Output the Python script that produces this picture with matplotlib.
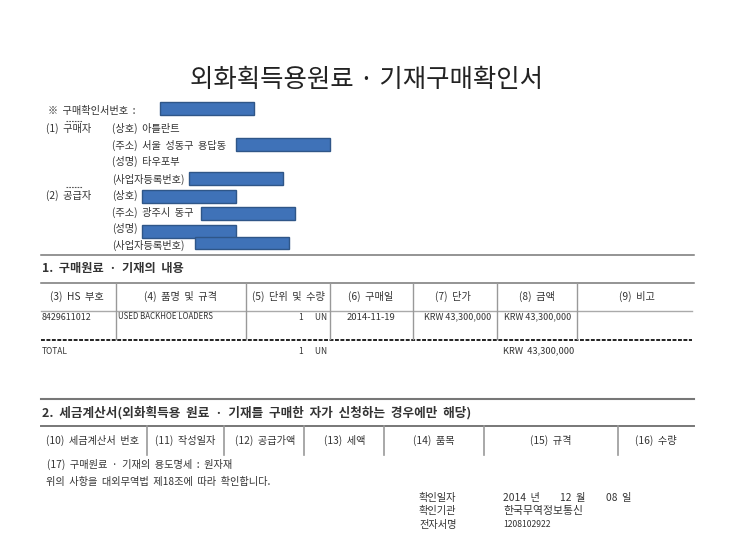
import matplotlib
matplotlib.use("Agg")
import matplotlib.pyplot as plt
from matplotlib.patches import Rectangle

plt.rcParams["font.family"] = ["Noto Sans CJK KR", "DejaVu Sans"]

TEXT_COLOR = "#333333"
LINE_COLOR = "#777777"
BOX_FACE = "#3f72b8"
BOX_EDGE = "#2f5688"

TITLE = "외화획득용원료 · 기재구매확인서"
DOC_NO = "※ 구매확인서번호 :"
BUYER = "(1) 구매자"
SUPPLIER = "(2) 공급자"
PARTY_LINES = ["(상호) 아틀란트", "(주소) 서울 성동구 용답동", "(성명) 타우포부", "(사업자등록번호)",
               "(상호)", "(주소) 광주시 동구", "(성명)", "(사업자등록번호)"]
SECTION_1 = "1. 구매원료 · 기재의 내용"
SECTION_2 = "2. 세금계산서(외화획득용 원료 · 기재를 구매한 자가 신청하는 경우에만 해당)"
HEADERS_1 = ["(3) HS 부호", "(4) 품명 및 규격", "(5) 단위 및 수량", "(6) 구매일",
             "(7) 단가", "(8) 금액", "(9) 비고"]
HEADERS_2 = ["(10) 세금계산서 번호", "(11) 작성일자", "(12) 공급가액", "(13) 세액",
             "(14) 품목", "(15) 규격", "(16) 수량"]
HS_CODE = "8429611012"
ITEM = "USED BACKHOE LOADERS"
QTY = "1   UN"
PURCHASE_DATE = "2014-11-19"
UNIT_PRICE = "KRW 43,300,000"
AMOUNT = "KRW 43,300,000"
TOTAL = "TOTAL"
TOTAL_AMOUNT = "KRW  43,300,000"
USE_LINE = "(17) 구매원료 · 기재의 용도명세 : 원자재"
CONFIRM_LINE = "위의 사항을 대외무역법 제18조에 따라 확인합니다."
SIGN_LABELS = ["확인일자", "확인기관", "전자서명"]
SIGN_ORG = "한국무역정보통신"
SIGN_NO = "1208102922"
SIGN_DATE = ["2014 년", "12 월", "08 일"]


def put(ax, x, y, s, size=7.35, ha="left", **kw):
    # the source form uses wide spaces, Noto's are narrow
    s = s.replace(" ", "  ")
    # baseline so rows stay level whatever the glyphs' extents are
    ax.text(x, y + size * 0.5, s, fontsize=size, ha=ha, va="baseline", color=TEXT_COLOR, **kw)


def hline(ax, y, x0=41, x1=694, lw=1.0, **kw):
    ax.plot([x0, x1], [y, y], color=kw.pop("color", LINE_COLOR), lw=lw, **kw)


def vlines(ax, xs, y0, y1, lw=1.0):
    for x in xs:
        ax.plot([x, x], [y0, y1], color="#999999", lw=lw)


fig = plt.figure(figsize=(7.4, 5.55), dpi=100)
ax = fig.add_axes([0, 0, 1, 1])
ax.set_xlim(0, 740)
ax.set_ylim(555, 0)
ax.axis("off")

# header block
ax.text(366, 80, TITLE, fontsize=18.3, ha="center", va="center", color="#222222")
put(ax, 48, 110.5, DOC_NO)
put(ax, 46, 128, BUYER)
put(ax, 46, 195, SUPPLIER)
party_y = [128, 145, 161, 179, 195, 212, 228, 245]
for y, s in zip(party_y, PARTY_LINES):
    put(ax, 112, y, s)

# small dotted marks above 구매자 / 공급자
for y in [120.5, 186.5]:
    hline(ax, y, x0=66, x1=82, lw=0.8, color="#555555", linestyle=(0, (1.5, 1)))

# blue redaction boxes
boxes = [(160, 102, 94, 13), (236, 138, 94, 13), (189, 172, 94, 13), (142, 190, 94, 13),
         (201, 207, 94, 13), (142, 225, 94, 13), (195, 237, 94, 12)]
for x, y, w, h in boxes:
    ax.add_patch(Rectangle((x, y), w, h, facecolor=BOX_FACE, edgecolor=BOX_EDGE, lw=1, zorder=3))

# section 1 table
hline(ax, 254.5, lw=1.1)
put(ax, 42, 268, SECTION_1, size=8.8, fontweight="bold")
hline(ax, 282.5, lw=1.1)
hline(ax, 311, x1=692, color="#aaaaaa")
hline(ax, 339.5, x1=692, lw=1.4, color="#222222", linestyle=(0, (2, 0.8)))
vlines(ax, [115.5, 246, 330, 413, 497, 577], 282.5, 339)
header_x = [77, 180, 288, 371, 453, 537, 637]
for x, s in zip(header_x, HEADERS_1):
    put(ax, x, 296, s, ha="center")

put(ax, 42, 316.5, HS_CODE, size=6.4)
ax.text(118, 316.5, ITEM, fontsize=5.7, va="center", color=TEXT_COLOR)
put(ax, 327, 316.5, QTY, size=6, ha="right")
put(ax, 347, 316.5, PURCHASE_DATE, size=6.8)
ax.text(424, 316.5, UNIT_PRICE, fontsize=6.5, va="center", color=TEXT_COLOR)
ax.text(504, 316.5, AMOUNT, fontsize=6.5, va="center", color=TEXT_COLOR)
put(ax, 42, 351, TOTAL, size=6)
put(ax, 327, 351, QTY, size=6, ha="right")
ax.text(503, 351, TOTAL_AMOUNT, fontsize=6.7, va="center", color=TEXT_COLOR)

# section 2 table
hline(ax, 399, lw=1.5)
put(ax, 42, 412, SECTION_2, size=9.1, fontweight="bold")
hline(ax, 425.5, lw=1.4)
vlines(ax, [147, 224, 304, 384, 484, 618], 425.5, 455, lw=1.2)
header2_x = [93, 185, 265, 345, 434, 551, 656]
for x, s in zip(header2_x, HEADERS_2):
    put(ax, x, 440, s, ha="center")

put(ax, 47, 464, USE_LINE)
put(ax, 46, 481, CONFIRM_LINE)

# confirmation block
sign_y = [497, 510, 524]
for y, s in zip(sign_y, SIGN_LABELS):
    put(ax, 419, y, s)
for x, s in zip([503, 560, 606], SIGN_DATE):
    put(ax, x, 497, s)
put(ax, 503, 510, SIGN_ORG, size=7.8)
put(ax, 503, 524, SIGN_NO, size=6.2)

fig.savefig("out.png", dpi=100)
